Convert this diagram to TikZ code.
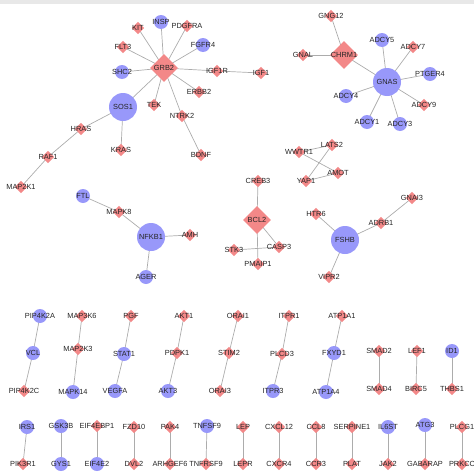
\documentclass[tikz,border=0pt]{standalone}
\usepackage{fontspec}
\setmainfont{Liberation Sans}
\usetikzlibrary{shapes.geometric}
\pgfdeclarelayer{bg}
\pgfdeclarelayer{fg}
\pgfsetlayers{bg,main,fg}
\definecolor{blueN}{RGB}{152,152,250}
\definecolor{redN}{RGB}{243,136,136}
\definecolor{edgeC}{RGB}{172,172,172}
\definecolor{bandC}{RGB}{232,232,232}
\tikzset{
 lbl/.style={font=\fontsize{7.4}{8}\selectfont, text=black!85, inner sep=0},
 gc/.style={circle, fill=blueN, minimum size=14pt, inner sep=0},
 gd/.style={diamond, fill=redN, minimum size=12.5pt, inner sep=0},
 bc/.style={circle, fill=blueN, minimum size=28pt, inner sep=0},
 bd/.style={diamond, fill=redN, minimum size=28pt, inner sep=0},
 lk/.style={draw=edgeC, line width=0.7pt},
}
\newcommand\gnode[4]{\node[#1] (#4) at (#2,#3) {};
 \begin{pgfonlayer}{fg}\node[lbl] at (#2,#3) {#4};\end{pgfonlayer}}
\begin{document}
\begin{tikzpicture}[x=1pt,y=-1pt]
\useasboundingbox (0,0) rectangle (474,474);
\fill[bandC] (0,0) rectangle (474,4);
% cluster GRB2
\gnode{bd}{164}{68}{GRB2}
\gnode{gc}{161}{22}{INSP}
\gnode{gd}{187}{26}{PDGFRA}
\gnode{gd}{138}{28}{KIT}
\gnode{gd}{123}{47}{FLT3}
\gnode{gc}{203}{45}{FGFR4}
\gnode{gc}{122}{72}{SHC2}
\gnode{gd}{217}{71}{IGF1R}
\gnode{gd}{261}{73}{IGF1}
\gnode{gd}{199}{92}{ERBB2}
\gnode{gd}{154}{105}{TEK}
\gnode{gd}{182}{116}{NTRK2}
\gnode{bc}{123}{107}{SOS1}
\gnode{gd}{81}{129}{HRAS}
\gnode{gd}{121}{150}{KRAS}
\gnode{gd}{201}{155}{BDNF}
\gnode{gd}{48}{157}{RAF1}
\gnode{gd}{21}{187}{MAP2K1}
% cluster GNAS
\gnode{bd}{344}{55}{CHRM1}
\gnode{gd}{331}{16}{GNG12}
\gnode{gd}{303}{55}{GNAL}
\gnode{bc}{387}{82}{GNAS}
\gnode{gc}{382}{40}{ADCY5}
\gnode{gd}{413}{47}{ADCY7}
\gnode{gc}{430}{74}{PTGER4}
\gnode{gc}{346}{96}{ADCY4}
\gnode{gd}{424}{105}{ADCY9}
\gnode{gc}{367}{122}{ADCY1}
\gnode{gc}{400}{124}{ADCY3}
% hippo
\gnode{gd}{332}{145}{LATS2}
\gnode{gd}{299}{152}{WWTR1}
\gnode{gd}{338}{173}{AMOT}
\gnode{gd}{306}{181}{YAP1}
% NFKB1
\gnode{gc}{83}{196}{FTL}
\gnode{gd}{119}{212}{MAPK8}
\gnode{bc}{151}{237}{NFKB1}
\gnode{gd}{190}{235}{AMH}
\gnode{gc}{146}{277}{AGER}
% BCL2
\gnode{gd}{258}{181}{CREB3}
\gnode{bd}{257}{220}{BCL2}
\gnode{gd}{279}{247}{CASP3}
\gnode{gd}{234}{250}{STK3}
\gnode{gd}{258}{264}{PMAIP1}
% FSHB
\gnode{gd}{412}{198}{GNAI3}
\gnode{gd}{381}{223}{ADRB1}
\gnode{gd}{316}{214}{HTR6}
\gnode{bc}{345}{240}{FSHB}
\gnode{gd}{329}{277}{VIPR2}
% row 3
\gnode{gc}{40}{316}{PIP4K2A}
\gnode{gc}{33}{353}{VCL}
\gnode{gd}{24}{391}{PIP4K2C}
\gnode{gd}{82}{316}{MAP3K6}
\gnode{gd}{78}{349}{MAP2K3}
\gnode{gc}{73}{392}{MAPK14}
\gnode{gd}{131}{316}{PGF}
\gnode{gc}{124}{354}{STAT1}
\gnode{gc}{115}{391}{VEGFA}
\gnode{gd}{184}{316}{AKT1}
\gnode{gd}{177}{353}{PDPK1}
\gnode{gc}{168}{391}{AKT3}
\gnode{gd}{238}{316}{ORAI1}
\gnode{gd}{229}{353}{STIM2}
\gnode{gd}{220}{391}{ORAI3}
\gnode{gd}{289}{316}{ITPR1}
\gnode{gd}{282}{354}{PLCD3}
\gnode{gc}{273}{391}{ITPR3}
\gnode{gd}{342}{316}{ATP1A1}
\gnode{gc}{334}{353}{FXYD1}
\gnode{gc}{326}{392}{ATP1A4}
\gnode{gd}{379}{351}{SMAD2}
\gnode{gd}{379}{389}{SMAD4}
\gnode{gd}{417}{351}{LEF1}
\gnode{gd}{416}{389}{BIRC5}
\gnode{gc}{452}{351}{ID1}
\gnode{gd}{452}{389}{THBS1}
% row 4
\gnode{gc}{27}{427}{IRS1}
\gnode{gd}{23}{464}{PIK3R1}
\gnode{gc}{61}{426}{GSK3B}
\gnode{gc}{61}{464}{GYS1}
\gnode{gd}{97}{426}{EIF4EBP1}
\gnode{gc}{97}{464}{EIF4E2}
\gnode{gd}{134}{427}{FZD10}
\gnode{gd}{134}{464}{DVL2}
\gnode{gd}{170}{427}{PAK4}
\gnode{gd}{170}{464}{ARHGEF6}
\gnode{gc}{207}{426}{TNFSF9}
\gnode{gd}{206}{464}{TNFRSF9}
\gnode{gd}{243}{427}{LEP}
\gnode{gd}{243}{464}{LEPR}
\gnode{gd}{279}{427}{CXCL12}
\gnode{gd}{279}{464}{CXCR4}
\gnode{gd}{316}{427}{CCL8}
\gnode{gd}{316}{464}{CCR3}
\gnode{gd}{352}{427}{SERPINE1}
\gnode{gd}{352}{464}{PLAT}
\gnode{gc}{388}{427}{IL6ST}
\gnode{gd}{388}{464}{JAK2}
\gnode{gc}{425}{425}{ATG3}
\gnode{gd}{425}{464}{GABARAP}
\gnode{gd}{462}{427}{PLCG1}
\gnode{gd}{462}{464}{PRKCC}
\begin{pgfonlayer}{bg}
\foreach \t in {INSP,PDGFRA,KIT,FLT3,FGFR4,SHC2,IGF1R,ERBB2,TEK,NTRK2,SOS1}
  \draw[lk] (GRB2.center) -- (\t.center);
\draw[lk] (IGF1R.center) -- (IGF1.center);
\draw[lk] (NTRK2.center) -- (BDNF.center);
\draw[lk] (SOS1.center) -- (HRAS.center);
\draw[lk] (SOS1.center) -- (KRAS.center);
\draw[lk] (HRAS.center) -- (RAF1.center);
\draw[lk] (RAF1.center) -- (MAP2K1.center);
\foreach \t in {GNG12,GNAL,GNAS}
  \draw[lk] (CHRM1.center) -- (\t.center);
\foreach \t in {ADCY5,ADCY7,PTGER4,ADCY4,ADCY9,ADCY1,ADCY3}
  \draw[lk] (GNAS.center) -- (\t.center);
\draw[lk] (WWTR1.center) -- (LATS2.center);
\draw[lk] (WWTR1.center) -- (AMOT.center);
\draw[lk] (YAP1.center) -- (LATS2.center);
\draw[lk] (YAP1.center) -- (AMOT.center);
\draw[lk] (FTL.center) -- (MAPK8.center);
\draw[lk] (MAPK8.center) -- (NFKB1.center);
\draw[lk] (NFKB1.center) -- (AMH.center);
\draw[lk] (NFKB1.center) -- (AGER.center);
\draw[lk] (CREB3.center) -- (BCL2.center);
\draw[lk] (BCL2.center) -- (CASP3.center);
\draw[lk] (BCL2.center) -- (PMAIP1.center);
\draw[lk] (STK3.center) -- (CASP3.center);
\draw[lk] (GNAI3.center) -- (ADRB1.center);
\draw[lk] (ADRB1.center) -- (FSHB.center);
\draw[lk] (HTR6.center) -- (FSHB.center);
\draw[lk] (FSHB.center) -- (VIPR2.center);
\foreach \a/\b/\c in {PIP4K2A/VCL/PIP4K2C,MAP3K6/MAP2K3/MAPK14,PGF/STAT1/VEGFA,AKT1/PDPK1/AKT3,ORAI1/STIM2/ORAI3,ITPR1/PLCD3/ITPR3,ATP1A1/FXYD1/ATP1A4}
  \draw[lk] (\a.center) -- (\b.center) -- (\c.center);
\foreach \a/\b in {SMAD2/SMAD4,LEF1/BIRC5,ID1/THBS1,IRS1/PIK3R1,GSK3B/GYS1,EIF4EBP1/EIF4E2,FZD10/DVL2,PAK4/ARHGEF6,TNFSF9/TNFRSF9,LEP/LEPR,CXCL12/CXCR4,CCL8/CCR3,SERPINE1/PLAT,IL6ST/JAK2,ATG3/GABARAP,PLCG1/PRKCC}
  \draw[lk] (\a.center) -- (\b.center);
\end{pgfonlayer}
\end{tikzpicture}
\end{document}
